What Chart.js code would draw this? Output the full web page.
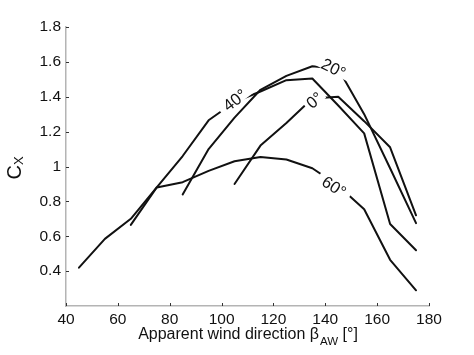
<!DOCTYPE html>
<html><head><meta charset="utf-8">
<script src="https://cdn.jsdelivr.net/npm/chart.js@4/dist/chart.umd.min.js"></script>
<style>html,body{margin:0;padding:0;background:#fff}#wrap{width:474px;height:355px}</style>
</head><body><div id="wrap"><canvas id="c" width="474" height="355"></canvas></div>
<script>
// Apparent wind direction (deg)
const beta = [45,55,65,75,85,95,105,115,125,135,145,155,165,175];
// Cx series for the four angles
const cx0  = [null,null,null,null,null,null,0.90,1.12,1.25,1.39,1.40,1.26,1.11,0.72];
const cx20 = [null,null,null,null,0.84,1.10,1.28,1.44,1.52,1.575,1.56,1.30,0.99,0.675];
const cx40 = [null,null,0.665,0.88,1.06,1.265,1.37,1.43,1.495,1.505,1.35,1.19,0.67,0.52];
const cx60 = [0.42,0.585,0.70,0.88,0.91,0.975,1.03,1.055,1.04,0.99,0.89,0.755,0.465,0.29];
const seriesNames = ['0°','20°','40°','60°'];
// inline label anchors (data coords) and rotation (deg)
const labelBeta = [135.8,143.2,105.1,143.4];
const labelCx   = [1.38,1.563,1.381,0.885];
const labelRot  = [-40,27,-37,33];
const xTicks = [40,60,80,100,120,140,160,180];
const yTicks = [0.4,0.6,0.8,1,1.2,1.4,1.6,1.8];

const FONT = "'Liberation Sans', Arial, Helvetica, sans-serif";
const MASK_PAD = [3,6,6,6];
function toPts(vals){ const out=[]; beta.forEach((b,i)=>{ if(vals[i]!==null) out.push({x:b,y:vals[i]}); }); return out; }
const allSeries=[cx0,cx20,cx40,cx60];

const decor = {
  id:'decor',
  afterDatasetsDraw(chart){
    const ctx=chart.ctx, xs=chart.scales.x, ys=chart.scales.y;
    ctx.save();
    ctx.font = "16.5px "+FONT;
    ctx.textAlign='center'; ctx.textBaseline='middle';
    seriesNames.forEach((t,i)=>{
      const px=xs.getPixelForValue(labelBeta[i]), py=ys.getPixelForValue(labelCx[i]);
      ctx.save(); ctx.translate(px,py); ctx.rotate(labelRot[i]*Math.PI/180);
      const w=ctx.measureText(t).width, pd=MASK_PAD[i];
      ctx.fillStyle='#fff'; ctx.fillRect(-w/2-pd,-5.5,w+2*pd,11);
      ctx.fillStyle='#111'; ctx.fillText(t,0,1);
      ctx.restore();
    });
    ctx.restore();
  },
  afterDraw(chart){
    const ctx=chart.ctx, xs=chart.scales.x, ys=chart.scales.y, a=chart.chartArea;
    ctx.save();
    // inner tick marks
    ctx.strokeStyle='#333'; ctx.lineWidth=1;
    xTicks.forEach(v=>{ const p=Math.round(xs.getPixelForValue(v))+0.5; ctx.beginPath(); ctx.moveTo(p,a.bottom); ctx.lineTo(p,a.bottom-3); ctx.stroke(); });
    yTicks.forEach(v=>{ const p=Math.round(ys.getPixelForValue(v))+0.5; ctx.beginPath(); ctx.moveTo(a.left,p); ctx.lineTo(a.left+3,p); ctx.stroke(); });
    // x title with subscript
    ctx.fillStyle='#111'; ctx.textBaseline='alphabetic'; ctx.textAlign='left';
    const p1='Apparent wind direction β', p2='AW', p3=' [°]';
    ctx.font="16px "+FONT; const w1=ctx.measureText(p1).width, w3=ctx.measureText(p3).width;
    ctx.font="11.5px "+FONT; const w2=ctx.measureText(p2).width;
    let x0=(a.left+a.right)/2-(w1+w2+w3)/2, yb=339;
    ctx.font="16px "+FONT; ctx.fillText(p1,x0,yb);
    ctx.font="11.5px "+FONT; ctx.fillText(p2,x0+w1+1,yb+6);
    ctx.font="16px "+FONT; ctx.fillText(p3,x0+w1+w2+1,yb);
    // y title C_X
    ctx.save(); ctx.translate(21,168); ctx.rotate(-Math.PI/2);
    ctx.font="20px "+FONT; const wc=ctx.measureText('C').width;
    ctx.font="13px "+FONT; const wx=ctx.measureText('X').width;
    const s=-(wc+wx)/2;
    ctx.font="20px "+FONT; ctx.fillText('C',s,0);
    ctx.font="13px "+FONT; ctx.fillText('X',s+wc,2);
    ctx.restore();
    ctx.restore();
  }
};

new Chart(document.getElementById('c'),{
  type:'line',
  data:{ datasets: allSeries.map((s,i)=>({label:seriesNames[i], data:toPts(s), borderColor:'#111', borderWidth:2, pointRadius:0, tension:0, fill:false, borderJoinStyle:'round', borderCapStyle:'round'})) },
  options:{
    responsive:false, animation:false, devicePixelRatio:1,
    layout:{padding:{top:27,right:45,left:0,bottom:0}},
    plugins:{legend:{display:false}, tooltip:{enabled:false}},
    scales:{
      x:{type:'linear', min:40, max:180,
        afterBuildTicks(sc){ sc.ticks = xTicks.map(v=>({value:v})); },
        afterFit(sc){ sc.height=49; },
        grid:{display:false, drawTicks:false},
        border:{display:true, color:'#b4b4b4', width:1.5},
        ticks:{padding:4, color:'#111', font:{family:FONT,size:15.5}, maxRotation:0, autoSkip:false}
      },
      y:{type:'linear', min:0.2, max:1.8,
        afterBuildTicks(sc){ sc.ticks = yTicks.map(v=>({value:v})); },
        afterFit(sc){ sc.width=66; },
        grid:{display:false, drawTicks:false},
        border:{display:true, color:'#b4b4b4', width:1.5},
        ticks:{padding:5, color:'#111', font:{family:FONT,size:15.5}, autoSkip:false, callback:v=>String(+v.toFixed(1))}
      }
    }
  },
  plugins:[decor]
});
</script></body></html>
